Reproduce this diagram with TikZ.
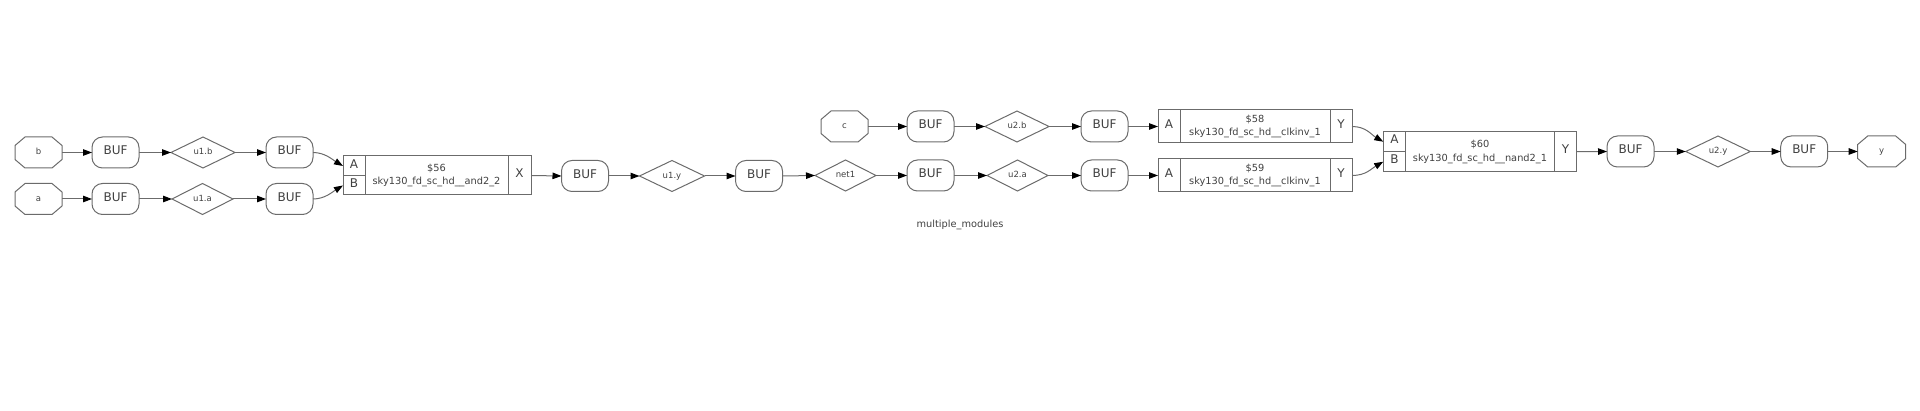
\documentclass[tikz,border=0pt]{standalone}
\usepackage{fontspec}
\setmainfont{DejaVu Sans}
\usetikzlibrary{arrows.meta,shapes.geometric}
\definecolor{ln}{gray}{0.42}
\definecolor{tx}{gray}{0.25}
\tikzset{
 base/.style={draw=ln,line width=1pt,inner sep=0pt,outer sep=0pt,text=tx},
 big/.style={font=\fontsize{12}{14}\selectfont,text height=9pt,text depth=4.5pt},
 small/.style={font=\fontsize{8.5}{13.5}\selectfont,text height=6.5pt,text depth=1.8pt},
 med/.style={font=\fontsize{9.8}{13.5}\selectfont},
 port/.style={base,rectangle,big},
 oct/.style={inner sep=0pt,outer sep=0pt,text=tx,small,rectangle,minimum width=47pt,minimum height=31pt},
 octline/.style={draw=ln,line width=1pt},
 buf/.style={base,big,rectangle,rounded corners=10.5pt,minimum width=47pt,minimum height=31pt},
 dia/.style={base,small,diamond,aspect=2.05,minimum width=#1,minimum height=31pt},
 body/.style={base,med,rectangle,align=center},
 wire/.style={draw=ln,line width=1pt,-{Triangle[length=9pt,width=6.5pt,color=black]}},
}
\begin{document}
\begin{tikzpicture}[x=1pt,y=-1pt]
\useasboundingbox (0,0) rectangle (1920,411);
% top-left chain
\node[oct] (b) at (38.5,152.5) {b};
\node[buf] (b1) at (115.5,152.5) {BUF};
\node[dia=64pt] (u1b) at (203,152.5) {u1.b};
\node[buf] (b2) at (289.5,152.5) {BUF};
\node[oct] (a) at (38.5,199) {a};
\node[buf] (a1) at (115.5,199) {BUF};
\node[dia=61pt] (u1a) at (202.5,199) {u1.a};
\node[buf] (a2) at (289.5,199) {BUF};
% $56
\node[port,minimum width=22pt,minimum height=20pt] (p56a) at (354,166) {A};
\node[port,minimum width=22pt,minimum height=19pt] (p56b) at (354,185.5) {B};
\node[body,minimum width=143pt,minimum height=39pt] (c56) at (436.5,175.5) {\$56\\sky130\_fd\_sc\_hd\_\_and2\_2};
\node[port,minimum width=23pt,minimum height=39pt] (p56x) at (519.5,175.5) {X};
\node[buf] (m1) at (585,176) {BUF};
\node[dia=65pt] (u1y) at (672,176) {u1.y};
\node[buf] (m2) at (759,176) {BUF};
\node[dia=61pt] (net1) at (845.5,175.5) {net1};
\node[buf] (m3) at (930.5,175.5) {BUF};
\node[dia=61pt] (u2a) at (1017.5,175.5) {u2.a};
\node[buf] (m4) at (1104.5,175.5) {BUF};
% top row
\node[oct] (c) at (844.5,126.5) {c};
\node[buf] (t1) at (930.5,126.5) {BUF};
\node[dia=64pt] (u2b) at (1017,126.5) {u2.b};
\node[buf] (t2) at (1104.5,126.5) {BUF};
% $58
\node[port,minimum width=22pt,minimum height=33pt] (p58a) at (1169,126.5) {A};
\node[body,minimum width=150pt,minimum height=33pt] (c58) at (1255,126.5) {\$58\\sky130\_fd\_sc\_hd\_\_clkinv\_1};
\node[port,minimum width=22pt,minimum height=33pt] (p58y) at (1341,126.5) {Y};
% $59
\node[port,minimum width=22pt,minimum height=33pt] (p59a) at (1169,175.5) {A};
\node[body,minimum width=150pt,minimum height=33pt] (c59) at (1255,175.5) {\$59\\sky130\_fd\_sc\_hd\_\_clkinv\_1};
\node[port,minimum width=22pt,minimum height=33pt] (p59y) at (1341,175.5) {Y};
% $60
\node[port,minimum width=22.5pt,minimum height=20pt] (p60a) at (1394.5,141.7) {A};
\node[port,minimum width=22.5pt,minimum height=20pt] (p60b) at (1394.5,161.7) {B};
\node[body,minimum width=148.5pt,minimum height=40pt] (c60) at (1480,151.7) {\$60\\sky130\_fd\_sc\_hd\_\_nand2\_1};
\node[port,minimum width=22.5pt,minimum height=40pt] (p60y) at (1565.5,151.7) {Y};
\node[buf] (r1) at (1630.5,151.5) {BUF};
\node[dia=64.5pt] (u2y) at (1718,151.5) {u2.y};
\node[buf] (r2) at (1804.2,151.5) {BUF};
\node[oct,minimum width=48pt] (y) at (1881.7,151.5) {y};
\node[med,inner sep=0pt,text=tx] (title) at (960,225) {multiple\_modules};
% octagon outlines
\foreach \n in {a,b,c,y}
  \draw[octline] ([xshift=10pt]\n.north west) -- ([xshift=-10pt]\n.north east) -- ([yshift=-8.5pt]\n.north east) -- ([yshift=8.5pt]\n.south east) -- ([xshift=-10pt]\n.south east) -- ([xshift=10pt]\n.south west) -- ([yshift=8.5pt]\n.south west) -- ([yshift=-8.5pt]\n.north west) -- cycle;
% connectors
\foreach \s/\t in {b/b1,b1/u1b,u1b/b2,a/a1,a1/u1a,u1a/a2,p56x/m1,m1/u1y,u1y/m2,m2/net1,net1/m3,m3/u2a,u2a/m4,m4/p59a,c/t1,t1/u2b,u2b/t2,t2/p58a,p60y/r1,r1/u2y,u2y/r2,r2/y}
  \draw[wire] (\s.east) -- (\t.west);
\draw[wire] (b2.east) .. controls +(12,0) and +(-10,-6) .. (p56a.west);
\draw[wire] (a2.east) .. controls +(12,0) and +(-10,6) .. (p56b.west);
\draw[wire] (p58y.east) .. controls +(14,0) and +(-12,-7) .. (p60a.west);
\draw[wire] (p59y.east) .. controls +(14,0) and +(-12,7) .. (p60b.west);
\end{tikzpicture}
\end{document}
